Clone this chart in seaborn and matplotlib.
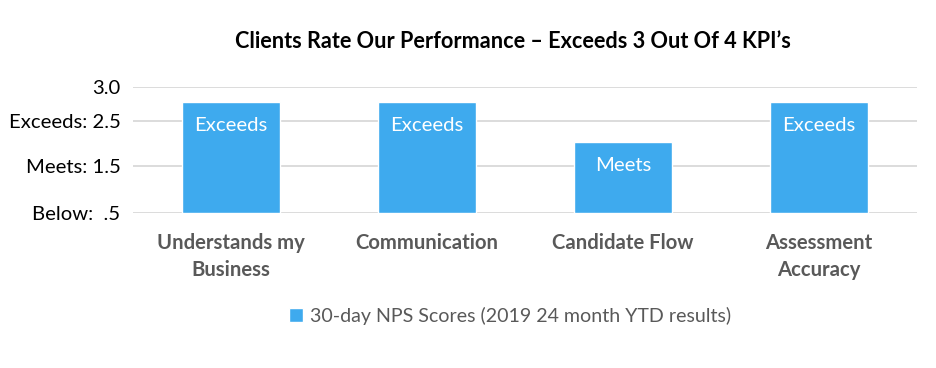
import matplotlib
matplotlib.use("Agg")
import matplotlib.pyplot as plt
import seaborn as sns
import pandas as pd

categories = ["Understands my\nBusiness", "Communication", "Candidate Flow", "Assessment\nAccuracy"]
scores = [2.64, 2.64, 1.69, 2.64]
bar_labels = ["Exceeds", "Exceeds", "Meets", "Exceeds"]
series_name = "30-day NPS Scores (2019 24 month YTD results)"
ytick_values = [0.0, 1.12, 2.19, 3.0]
ytick_labels = ["Below:  .5", "Meets: 1.5", "Exceeds: 2.5", "3.0"]
title = "Clients Rate Our Performance \u2013 Exceeds 3 Out Of 4 KPI\u2019s"

sns.set_theme(style="white")
plt.rcParams["font.family"] = ["Lato", "DejaVu Sans"]

df = pd.DataFrame({"category": categories, "score": scores})

fig = plt.figure(figsize=(9.37, 3.68), dpi=100)
ax = fig.add_axes([133/937, 1-213/368, (917-133)/937, (213-87)/368])

color = "#3EAAEE"
sns.barplot(data=df, x="category", y="score", color=color, width=0.5,
            saturation=1, label=series_name, ax=ax)

ax.set_ylim(0, 3.0)
ax.set_xlim(-0.5, 3.5)
ax.set_yticks(ytick_values)
ax.set_yticklabels(ytick_labels, fontsize=14.6, color="black")
ax.yaxis.grid(True, color="#D9D9D9", linewidth=1.3)
ax.set_axisbelow(True)
for s in ax.spines.values():
    s.set_visible(False)
ax.tick_params(axis="y", length=0, pad=9)
ax.tick_params(axis="x", length=0, pad=14.5)
ax.set_xlabel("")
ax.set_ylabel("")
for lbl in ax.get_xticklabels():
    lbl.set_fontsize(14.6)
    lbl.set_fontweight("bold")
    lbl.set_color("#595959")
    lbl.set_linespacing(1.4)
    lbl.set_verticalalignment("top")

for patch, txt in zip(ax.patches, bar_labels):
    x = patch.get_x() + patch.get_width() / 2
    top = patch.get_height()
    ax.annotate(txt, (x, top), xytext=(0, -17), textcoords="offset points",
                ha="center", va="center", color="white", fontsize=14.6)

fig.text(513/937, 1-42/368, title, ha="center", va="center", fontsize=15.6,
         fontweight="bold", color="black")

leg = ax.legend(loc="center", bbox_to_anchor=(510/937, 1-316/368),
                bbox_transform=fig.transFigure, frameon=False, fontsize=14.1,
                handlelength=0.7, handleheight=0.7, handletextpad=0.35)
for t in leg.get_texts():
    t.set_color("#595959")

fig.savefig("out.png", dpi=100)
